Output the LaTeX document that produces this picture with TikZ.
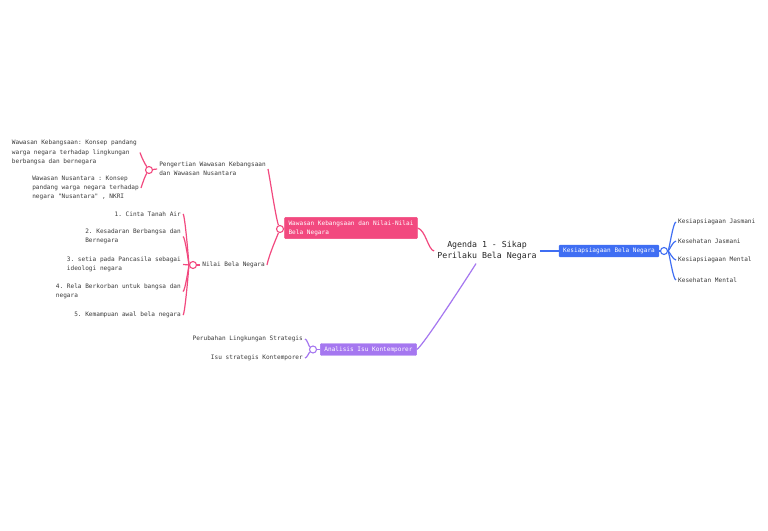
\documentclass[tikz,border=0pt]{standalone}
\usepackage{fontspec}
\setmonofont{DejaVu Sans Mono}
\definecolor{txt}{HTML}{3A3A3A}
\definecolor{pinkc}{HTML}{F2497F}
\definecolor{bluec}{HTML}{3F6EF3}
\definecolor{purplec}{HTML}{A577F0}
\tikzset{
  lbl/.style={font=\ttfamily\fontsize{6.1}{9.3}\selectfont, text=txt, inner sep=2pt, align=left},
  central/.style={font=\ttfamily\fontsize{8.25}{10.7}\selectfont, text=black!85, inner sep=3pt, align=center},
  mainbox/.style={font=\ttfamily\fontsize{6.1}{9.3}\selectfont, text=white, fill=#1, draw=#1, rounded corners=1pt, inner xsep=4pt, inner ysep=3pt, align=left},
  knob/.style={circle, draw=#1, fill=white, line width=1.1pt, minimum size=7pt, inner sep=0pt},
  br/.style={draw=#1, line width=1.2pt},
}
\begin{document}
\begin{tikzpicture}[x=1pt,y=-1pt]
\fill[white] (0,0) rectangle (768,530);
\useasboundingbox (0,0) rectangle (768,530);

% central
\node[central] (c) at (487,251) {Agenda 1 - Sikap\\Perilaku Bela Negara};

% blue branch
\node[mainbox=bluec] (kb) at (609,251) {Kesiapsiagaan Bela Negara};
\node[knob=bluec] (kbc) at (664,251) {};
\node[lbl, anchor=west] (b1) at (676,222) {Kesiapsiagaan Jasmani};
\node[lbl, anchor=west] (b2) at (676,241) {Kesehatan Jasmani};
\node[lbl, anchor=west] (b3) at (676,260) {Kesiapsiagaan Mental};
\node[lbl, anchor=west] (b4) at (676,280) {Kesehatan Mental};
\draw[br=bluec] (c.east) -- (kb.west);
\draw[br=bluec] (kb.east) -- (kbc);
\foreach \n in {b1,b2,b3,b4}{
  \draw[br=bluec] (kbc) .. controls +(5,0) and +(-3,0) .. (\n.west);
}

% pink branch
\node[mainbox=pinkc] (wk) at (351,228) {Wawasan Kebangsaan dan Nilai-Nilai\\Bela Negara};
\node[knob=pinkc] (wkc) at (280,229) {};
\draw[br=pinkc] (wk.east) .. controls +(8,2) and +(-6,-1) .. (c.west);
\draw[br=pinkc] (wk.west) -- (wkc);

\node[lbl, anchor=east] (pw) at (268,169) {Pengertian Wawasan Kebangsaan\\dan Wawasan Nusantara};
\node[lbl, anchor=east] (nb) at (267,265) {Nilai Bela Negara};
\draw[br=pinkc] (wkc) .. controls +(-4,-10) and +(2,10) .. (pw.east);
\draw[br=pinkc] (wkc) .. controls +(-4,10) and +(2,-10) .. (nb.east);

% pengertian children
\node[knob=pinkc] (pwc) at (149,170) {};
\draw[br=pinkc] (pw.west) -- (pwc);
\node[lbl, anchor=east] (wkb) at (139,152.5) {Wawasan Kebangsaan: Konsep pandang\\warga negara terhadap lingkungan\\berbangsa dan bernegara};
\node[lbl, anchor=east] (wn) at (141,188) {Wawasan Nusantara : Konsep\\pandang warga negara terhadap\\negara "Nusantara" , NKRI};
\draw[br=pinkc] (pwc) .. controls +(-4,-6) and +(2,6) .. ([xshift=1pt]wkb.east);
\draw[br=pinkc] (pwc) .. controls +(-4,6) and +(2,-6) .. (wn.east);

% nilai children
\node[knob=pinkc] (nbc) at (193,265) {};
\draw[br=pinkc] (nb.west) -- (nbc);
\node[lbl, anchor=east] (n1) at (183,214) {1. Cinta Tanah Air};
\node[lbl, anchor=east] (n2) at (183,236.5) {2. Kesadaran Berbangsa dan\\Bernegara};
\node[lbl, anchor=east] (n3) at (183,264.5) {3. setia pada Pancasila sebagai\\ideologi negara};
\node[lbl, anchor=east] (n4) at (183,291.5) {4. Rela Berkorban untuk bangsa dan\\negara};
\node[lbl, anchor=east] (n5) at (183,315) {5. Kemampuan awal bela negara};
\foreach \n in {n1,n2,n3,n4,n5}{
  \draw[br=pinkc] (nbc) .. controls +(-4,0) and +(2,0) .. (\n.east);
}

% purple branch
\node[mainbox=purplec] (ai) at (368.5,349.5) {Analisis Isu Kontemporer};
\node[knob=purplec] (aic) at (313,349.5) {};
\draw[br=purplec] (ai.east) .. controls +(6,-3) and +(-3,5) .. ([xshift=-11pt]c.south);
\draw[br=purplec] (ai.west) -- (aic);
\node[lbl, anchor=east] (p1) at (305,339) {Perubahan Lingkungan Strategis};
\node[lbl, anchor=east] (p2) at (305,358) {Isu strategis Kontemporer};
\draw[br=purplec] (aic) .. controls +(-4,-3) and +(2,0) .. (p1.east);
\draw[br=purplec] (aic) .. controls +(-4,3) and +(2,0) .. (p2.east);
\end{tikzpicture}
\end{document}
